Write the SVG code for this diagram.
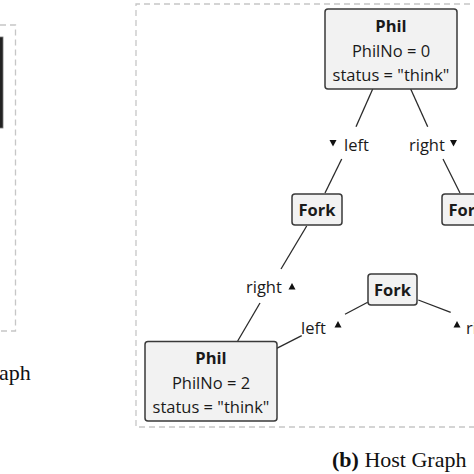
<svg xmlns="http://www.w3.org/2000/svg" width="474" height="474" viewBox="0 0 474 474">
<style>
.frame{fill:none;stroke:#c6c6c6;stroke-width:1.3;stroke-dasharray:6 4}
.node rect{fill:#f2f2f2;stroke:#3a3a3a;stroke-width:1.5}
.t{font-family:"Open Sans","Noto Sans",sans-serif;font-size:16.5px;fill:#1a1a1a;text-anchor:middle}
.b{font-weight:bold}
.lbl{font-family:"Open Sans","Noto Sans",sans-serif;font-size:16.5px;fill:#1a1a1a}
.edge line{stroke:#2a2a2a;stroke-width:1.3}
.tri{fill:#111}
.cap{font-family:"Liberation Serif","Times New Roman",serif;font-size:22px;fill:#111}
</style>
<rect width="474" height="474" fill="#fff"/>
<g id="panel-a">
<rect x="-1" y="37" width="4" height="91" fill="#222" stroke="#777" stroke-width="0.8"/>
<path class="frame" d="M0 25 H15.5 V331 H0"/>
<text class="cap" x="-1" y="380">aph</text>
</g>
<path class="frame" d="M480 4 H136 V427 H480"/>
<g class="edge" id="connectors">
<line x1="372.7" y1="89" x2="356" y2="126.7"/>
<line x1="341.7" y1="159" x2="325" y2="193"/>
<line x1="410.7" y1="89" x2="427.7" y2="126.7"/>
<line x1="443" y1="159" x2="460" y2="193"/>
<line x1="306.7" y1="226" x2="281" y2="269"/>
<line x1="260" y1="303" x2="237.7" y2="341"/>
<line x1="367.7" y1="302.3" x2="345" y2="314.3"/>
<line x1="301.7" y1="335.7" x2="276.7" y2="348.3"/>
<line x1="418.3" y1="300" x2="450.7" y2="312.3"/>
</g>
<g id="labels">
<polygon class="tri" points="329.5,140 336.5,140 333,146.5"/>
<text class="lbl" x="344" y="151">left</text>
<text class="lbl" x="409" y="151">right</text>
<polygon class="tri" points="450,140 457,140 453.5,146.5"/>
<text class="lbl" x="246" y="293">right</text>
<polygon class="tri" points="288.5,289.5 295.5,289.5 292,283"/>
<text class="lbl" x="301" y="334">left</text>
<polygon class="tri" points="334.5,327.5 341.5,327.5 338,321"/>
<polygon class="tri" points="453.5,327.5 460.5,327.5 457,321"/>
<text class="lbl" x="466" y="334">right</text>
</g>
<g class="node" id="phil0">
<rect x="325" y="9" width="132" height="80" rx="3"/>
<text class="t b" x="391" y="32">Phil</text>
<text class="t" x="391" y="56.5">PhilNo = 0</text>
<text class="t" x="391" y="80.5">status = "think"</text>
</g>
<g class="node" id="fork-left">
<rect x="292" y="194" width="50" height="31" rx="3"/>
<text class="t b" x="317" y="216">Fork</text>
</g>
<g class="node" id="fork-right">
<rect x="442" y="194" width="50" height="31" rx="3"/>
<text class="t b" x="467" y="216">Fork</text>
</g>
<g class="node" id="fork-mid">
<rect x="368" y="274" width="49" height="31" rx="3"/>
<text class="t b" x="392.5" y="296">Fork</text>
</g>
<g class="node" id="phil2">
<rect x="145" y="341.5" width="132" height="79.5" rx="3"/>
<text class="t b" x="211" y="364">Phil</text>
<text class="t" x="211" y="388.5">PhilNo = 2</text>
<text class="t" x="211" y="412.5">status = "think"</text>
</g>
<text class="cap" x="332" y="467"><tspan font-weight="bold">(b)</tspan> Host Graph</text>
</svg>
